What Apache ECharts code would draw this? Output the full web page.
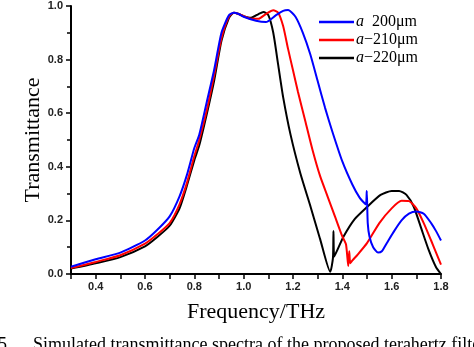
<!DOCTYPE html>
<html>
<head>
<meta charset="utf-8">
<script src="https://cdn.jsdelivr.net/npm/echarts@6/dist/echarts.min.js"></script>
<style>html,body{margin:0;padding:0;background:#fff;}#c{width:474px;height:347px;}</style>
</head>
<body>
<div id="c"></div>
<script>
// ---- data ----
const legendNames = ['a  200μm', 'a\u2212210μm', 'a\u2212220μm'];
const seriesColors = ['#0000ff', '#ff0000', '#000000'];

const fBlue = [0.3,0.4,0.5,0.6,0.65,0.7,0.74,0.77,0.8,0.82,0.85,0.88,0.91,0.94,0.96,0.98,1.0,1.05,1.09,1.13,1.16,1.18,1.21,1.24,1.27,1.3,1.33,1.36,1.4,1.44,1.47,1.495,1.499,1.503,1.51,1.525,1.545,1.56,1.58,1.61,1.64,1.67,1.7,1.73,1.76,1.78,1.8];
const tBlue = [0.027,0.055,0.08,0.125,0.165,0.215,0.29,0.37,0.47,0.52,0.64,0.76,0.9,0.965,0.975,0.97,0.96,0.945,0.94,0.965,0.982,0.985,0.96,0.9,0.82,0.72,0.62,0.53,0.42,0.335,0.285,0.26,0.31,0.19,0.14,0.1,0.08,0.085,0.115,0.16,0.2,0.225,0.233,0.225,0.19,0.16,0.125];

const fRed = [0.3,0.4,0.5,0.6,0.65,0.7,0.74,0.77,0.8,0.82,0.85,0.88,0.91,0.94,0.96,0.98,1.0,1.03,1.06,1.09,1.12,1.14,1.16,1.18,1.2,1.22,1.25,1.28,1.31,1.34,1.37,1.4,1.415,1.424,1.428,1.432,1.44,1.46,1.5,1.55,1.6,1.64,1.67,1.7,1.73,1.76,1.78,1.8];
const tRed = [0.022,0.045,0.07,0.113,0.148,0.19,0.26,0.34,0.44,0.5,0.61,0.74,0.88,0.96,0.975,0.97,0.962,0.952,0.952,0.97,0.984,0.975,0.925,0.84,0.76,0.68,0.57,0.46,0.365,0.29,0.215,0.14,0.11,0.03,0.085,0.04,0.05,0.07,0.115,0.19,0.245,0.273,0.272,0.245,0.19,0.125,0.08,0.035];

const fBlack = [0.3,0.4,0.5,0.6,0.65,0.7,0.74,0.77,0.8,0.82,0.85,0.88,0.91,0.94,0.96,0.98,1.0,1.03,1.06,1.08,1.1,1.12,1.14,1.16,1.19,1.23,1.27,1.31,1.351,1.362,1.364,1.367,1.38,1.405,1.45,1.5,1.555,1.6,1.63,1.66,1.69,1.72,1.75,1.78,1.8];
const tBlack = [0.02,0.04,0.063,0.103,0.138,0.18,0.245,0.33,0.425,0.48,0.595,0.72,0.87,0.955,0.975,0.97,0.962,0.956,0.97,0.978,0.966,0.9,0.78,0.66,0.52,0.375,0.255,0.13,0.008,0.06,0.16,0.065,0.09,0.14,0.205,0.25,0.295,0.31,0.31,0.295,0.25,0.17,0.09,0.025,0.0];

const xName = 'Frequency/THz';
const yName = 'Transmittance';
const captionNum = '5';
const caption = 'Simulated transmittance spectra of the proposed terahertz filter';

// ---- chart ----
const chart = echarts.init(document.getElementById('c'), null, {renderer: 'canvas'});
const zip = (a, b) => a.map((v, i) => [v, b[i]]);
const allF = [fBlue, fRed, fBlack];
const allT = [tBlue, tRed, tBlack];

const tickFont = {fontFamily: 'Liberation Sans, Arial', fontWeight: 'bold', fontSize: 11, color: '#222'};

chart.setOption({
  animation: false,
  grid: {left: 71, right: 33, top: 6, bottom: 73, containLabel: false},
  legend: {
    orient: 'vertical', left: 314, top: 9,
    icon: 'rect', itemWidth: 35, itemHeight: 2.5, itemGap: 2,
    data: legendNames,
    formatter: (n) => '{i|a}{n|' + n.slice(1) + '}',
    textStyle: {
      padding: [0, 0, 0, -3],
      rich: {
        i: {fontFamily: 'Liberation Serif, Times New Roman', fontStyle: 'italic', fontSize: 16, color: '#000', lineHeight: 18},
        n: {fontFamily: 'Liberation Serif, Times New Roman', fontSize: 16, color: '#000', lineHeight: 18}
      }
    }
  },
  xAxis: {
    type: 'value', min: 0.3, max: 1.8, interval: 0.1,
    name: xName, nameLocation: 'middle', nameGap: 27, nameMoveOverlap: false,
    nameTextStyle: {fontFamily: 'Liberation Serif, Times New Roman', fontSize: 22, color: '#000'},
    axisLine: {show: true, onZero: false, lineStyle: {color: '#000', width: 2}},
    axisTick: {show: true, inside: false, length: 5, lineStyle: {color: '#000', width: 1.5}},
    axisLabel: Object.assign({margin: 7, formatter: (v) => {
      const k = Math.round(v * 10);
      return (k % 2 === 0) ? (k / 10).toFixed(1) : '';
    }}, tickFont),
    splitLine: {show: false}
  },
  yAxis: {
    type: 'value', min: 0, max: 1.0, interval: 0.2,
    name: yName, nameLocation: 'middle', nameGap: 27, nameMoveOverlap: false,
    nameTextStyle: {fontFamily: 'Liberation Serif, Times New Roman', fontSize: 22, color: '#000'},
    axisLine: {show: true, lineStyle: {color: '#000', width: 2}},
    axisTick: {show: true, inside: false, length: 5, lineStyle: {color: '#000', width: 1.5}},
    minorTick: {show: true, splitNumber: 2, length: 4, lineStyle: {color: '#000', width: 1.5}},
    axisLabel: Object.assign({margin: 8, formatter: (v) => v.toFixed(1)}, tickFont),
    splitLine: {show: false}
  },
  series: legendNames.map((n, i) => ({
    name: n, type: 'line', symbol: 'none', smooth: 0.2,
    data: zip(allF[i], allT[i]),
    lineStyle: {color: seriesColors[i], width: 2},
    itemStyle: {color: seriesColors[i]},
    z: 3 - i
  })),
  graphic: [
    {type: 'text', left: -2, top: 336, style: {text: captionNum, font: '18px "Liberation Serif", "Times New Roman"', fill: '#000'}},
    {type: 'text', left: 33, top: 336, style: {text: caption, font: '18px "Liberation Serif", "Times New Roman"', fill: '#000'}}
  ]
});
</script>
</body>
</html>
